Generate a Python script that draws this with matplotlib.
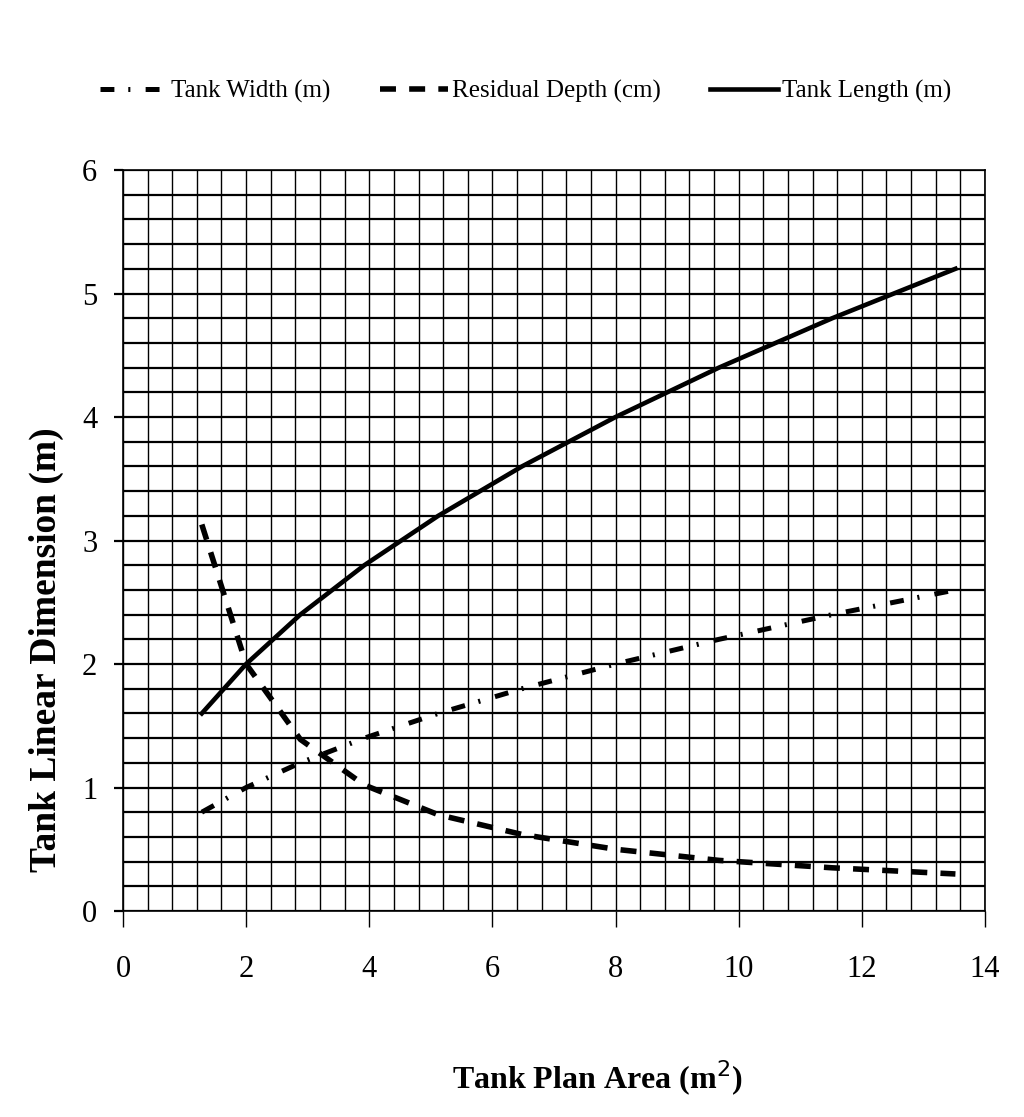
import matplotlib
matplotlib.use("Agg")
import matplotlib.pyplot as plt
import numpy as np
from matplotlib.ticker import MultipleLocator

plt.rcParams['font.family'] = ['Liberation Serif', 'DejaVu Serif']
plt.rcParams['lines.scale_dashes'] = False

# Data
area = [1.28, 2.00, 2.88, 3.92, 5.12, 6.48, 8.00, 9.68, 11.52, 13.52]
tank_length = [1.6, 2.0, 2.4, 2.8, 3.2, 3.6, 4.0, 4.4, 4.8, 5.2]
tank_width = [0.8, 1.0, 1.2, 1.4, 1.6, 1.8, 2.0, 2.2, 2.4, 2.6]
residual_depth = [3.13, 2.00, 1.39, 1.02, 0.78, 0.62, 0.50, 0.41, 0.35, 0.30]

x_ticks = [0, 2, 4, 6, 8, 10, 12, 14]
y_ticks = [0, 1, 2, 3, 4, 5, 6]

fig = plt.figure(figsize=(10.24, 11.17), dpi=100)
ax = fig.add_axes([0.1201, 0.1844, 0.8418, 0.6634])

ax.set_xlim(0, 14)
ax.set_ylim(0, 6)
ax.set_xticks(x_ticks)
ax.set_yticks(y_ticks)
ax.xaxis.set_minor_locator(MultipleLocator(0.4))
ax.yaxis.set_minor_locator(MultipleLocator(0.2))

# grid
for xv in np.arange(0, 14.0001, 0.4):
    ax.axvline(xv, color='black', lw=1.0, zorder=1)
ax.axvline(14, color='black', lw=1.0, zorder=1)
for yv in np.arange(0, 6.0001, 0.2):
    ax.axhline(yv, color='black', lw=1.6, zorder=1)

l1, = ax.plot(area, tank_width, color='black', lw=3.6,
              linestyle=(0, (10, 10, 1.5, 11)), label='Tank Width (m)', zorder=3)
l2, = ax.plot(area, residual_depth, color='black', lw=4.0,
              linestyle=(0, (11.5, 9.5)), label='Residual Depth (cm)', zorder=3)
l3, = ax.plot(area, tank_length, color='black', lw=3.3,
              linestyle='-', label='Tank Length (m)', zorder=3)

for s in ax.spines.values():
    s.set_linewidth(1.2)

ax.tick_params(axis='x', which='major', length=11.5, width=1.0, pad=20,
               labelsize=22, direction='out')
ax.tick_params(axis='y', which='major', length=6.5, width=1.6, pad=12,
               labelsize=22, direction='out')
ax.tick_params(which='minor', length=0)

ax.set_ylabel('Tank Linear Dimension (m)', fontsize=27, fontweight='bold')
ax.yaxis.set_label_coords(-0.068, 0.352)
ax.set_xlabel('Tank Plan Area (m$^{2}$)', fontsize=23, fontweight='bold')
ax.xaxis.set_label_coords(0.55, -0.2)

fig.legend(handles=[l1, l2, l3], loc='center', bbox_to_anchor=(0.513, 0.918),
           ncol=3, frameon=False, fontsize=18, handlelength=2.7,
           handletextpad=0.15, columnspacing=2.0)

fig.savefig('out.png', dpi=100, facecolor='white')
